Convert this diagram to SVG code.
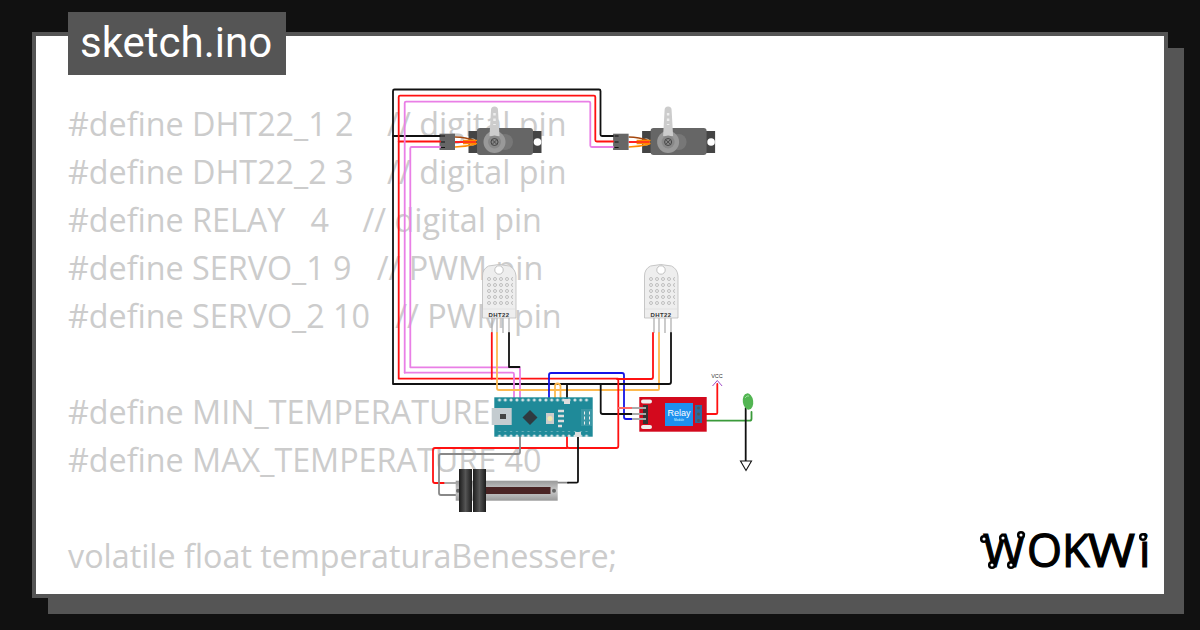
<svg xmlns="http://www.w3.org/2000/svg" width="1200" height="630" viewBox="0 0 1200 630">
<style>
.code{font-family:"Open Sans","Liberation Sans",sans-serif;font-size:32.3px;fill:#ccc;white-space:pre}
.w{fill:none;stroke-width:1.8;stroke-linejoin:round;stroke-linecap:round}
.k{stroke:#111}.r{stroke:#f11}.p{stroke:#e97fe6}.o{stroke:#fdb94f}.b{stroke:#1414e6}.g{stroke:#888}.gr{stroke:#3a9a3a}
.logo{font-family:"Open Sans","DejaVu Sans",sans-serif;font-size:45px;fill:#000;stroke:#000;stroke-width:1.2}
</style>
<defs>
<linearGradient id="handle" x1="0" x2="1" y1="0" y2="0"><stop offset="0" stop-color="#1c1c1c"/><stop offset=".5" stop-color="#555"/><stop offset="1" stop-color="#1c1c1c"/></linearGradient>
<linearGradient id="pot" x1="0" x2="0" y1="0" y2="1"><stop offset="0" stop-color="#999"/><stop offset=".5" stop-color="#ccc"/><stop offset="1" stop-color="#999"/></linearGradient>
<pattern id="pins" width="5.8" height="6" patternUnits="userSpaceOnUse" x="496.6" y="397"><circle cx="2.9" cy="3" r="1.5" fill="#d8e4e6"/></pattern>
<pattern id="vents" width="6" height="6" patternUnits="userSpaceOnUse"><circle cx="3" cy="3" r="1.5" fill="none" stroke="#aaa" stroke-width=".7"/></pattern>
<g id="servoShape">
<rect x="468.500" y="131" width="73" height="22" fill="#444"/>
<circle cx="472.500" cy="142" r="3.500" fill="#ddd"/>
<circle cx="537.500" cy="142" r="3.800" fill="#fff"/>
<rect x="477" y="128" width="56" height="27" rx="3" fill="#666"/>
<circle cx="505" cy="142" r="8" fill="#777"/>
<circle cx="494.500" cy="142" r="11" fill="#999"/>
<path d="M491 110a3.500 3.500 0 0 1 7 0l1.500 26h-10z" fill="#ccc"/>
<circle cx="494.500" cy="142" r="6.500" fill="#888"/>
<circle cx="494.500" cy="142" r="3.500" fill="none" stroke="#333" stroke-width=".8"/>
<path d="M492.500 140l4 4m0-4l-4 4" stroke="#333" stroke-width=".7"/>
<path d="M494.500 113v12" stroke="#eee" stroke-width="2.500" stroke-dasharray="2.500 3"/>
<path d="M455 137q10 0 21 4" fill="none" stroke="#a5470d" stroke-width="1.600"/>
<path d="M455 147q10 0 21-3" fill="none" stroke="#ff8c00" stroke-width="1.600"/>
<path d="M455 142h21" stroke="#f22" stroke-width="2"/>
<path d="M463 140.500h14M463 143.500h14" stroke="#f80" stroke-width="1.500"/>
<rect x="439.500" y="133.700" width="15.500" height="16.300" fill="#666"/>
<path d="M441 136h4M441 142h4M441 147.500h4" stroke="#111" stroke-width="1"/>
</g>
<g id="dhtShape">
<path d="M492 318v15M497 318v15M503 318v15M509 318v15" stroke="#aaa" stroke-width="1.200"/>
<path d="M482.500 318V276q0-7 6-10q10-3 21 0q6 3 6.500 10v42z" fill="#eee" stroke="#bbb" stroke-width=".8"/>
<circle cx="499" cy="270" r="4.200" fill="#fff" stroke="#aaa" stroke-width=".7"/>
<rect x="486" y="277" width="27" height="30" fill="url(#vents)"/>
<path d="M483 309h33" stroke="#ddd" stroke-width=".7"/>
<text x="499" y="316.500" text-anchor="middle" font-family="'Liberation Sans',sans-serif" font-size="6" font-weight="700" letter-spacing=".4" fill="#333">DHT22</text>
</g>
</defs>
<rect width="1200" height="630" fill="#111"/>
<rect x="48" y="48" width="1136" height="566" fill="#555"/>
<rect x="34" y="34" width="1132" height="562" fill="#fff" stroke="#555" stroke-width="4"/>
<rect x="68" y="12" width="218" height="63" fill="#555"/>
<text x="80" y="57" font-family="Roboto,'Liberation Sans',sans-serif" font-size="42" fill="#fff">sketch.ino</text>
<g id="code">
<text class="code" x="68" y="136">#define DHT22_1 2    // digital pin</text>
<text class="code" x="68" y="184">#define DHT22_2 3    // digital pin</text>
<text class="code" x="68" y="232">#define RELAY   4    // digital pin</text>
<text class="code" x="68" y="280">#define SERVO_1 9   // PWM pin</text>
<text class="code" x="68" y="328">#define SERVO_2 10   // PWM pin</text>
<text class="code" x="68" y="424">#define MIN_TEMPERATURE</text>
<text class="code" x="68" y="472">#define MAX_TEMPERATURE 40</text>
<text class="code" x="68" y="568">volatile float temperaturaBenessere;</text>
</g>
<g id="servo1"><use href="#servoShape"/></g>
<g id="servo2"><use href="#servoShape" x="173.600"/></g>
<g id="dht1"><use href="#dhtShape"/></g>
<g id="dht2"><use href="#dhtShape" x="162"/></g>
<g id="connectors">
<path class="w k" d="M440 136H393V384H600"/>
<path class="w k" d="M393 136V91q0-1.500 1.500-1.500H599q1.500 0 1.500 1.500V134.500q0 1.500 1.500 1.500H613"/>
<path class="w r" d="M440 141.500H398.700V378.700H618"/>
<path class="w r" d="M398.700 141.500V97q0-1.300 1.300-1.300H594q1.300 0 1.300 1.300V140q0 1.500 1.500 1.500H613"/>
<path class="w p" d="M440 147H411.500q-1.200 0-1.200 1.200V367.300H518.500q1.500 0 1.500 1.500V400"/>
<path class="w p" d="M404.700 372.700V103q0-1.300 1.300-1.300H589q1.300 0 1.300 1.300V145.500q0 1.500 1.500 1.500H613"/>
<path class="w p" d="M404.700 372.700H512.500q1.500 0 1.500 1.500V400"/>
<path class="w k" d="M509 333V367H519.500"/>
<path class="w r" d="M491.800 333V378.700"/>
<path class="w o" d="M497 333V388q0 2 2 2H658q1 0 1-1V333"/>
<path class="w o" d="M555 400V386q0-2.500 2.500-2.500t3 2.500V400"/>
<path class="w b" d="M549 400V375q0-2 2-2H622q2 0 2 2V417q0 2 2 2H640"/>
<path class="w k" d="M567 400V384M600.700 384V412q0 2 2 2H640"/>
<path class="w k" d="M600 384H669q2 0 2-2V333"/>
<path class="w r" d="M653 333V377q0 2-2 2H617q1.300 0 1.300 1.500V446q0 2-2 2H569q-2 0-2-2V433"/>
<path class="w" stroke="#f66" d="M618.300 408H640"/>
<path class="w r" d="M567 448H435q-2 0-2 2V481q0 2 2 2H445"/>
<path class="w" stroke="#aaa" d="M445 483H457"/>
<path class="w g" d="M520 436V452q0 2-2 2H441q-2 0-2 2V493q0 2 2 2H456"/>
<path class="w g" d="M557 482.700H568"/>
<path class="w k" d="M568 482.700H576.500q1.500 0 1.500-1.500V437"/>
<path class="w r" d="M698 414H716q1.300 0 1.300-1.300V384"/>
<path class="w gr" d="M698 420.700H749.500q2 0 2-2V412"/>
<path class="w k" d="M745.700 408V461"/>
</g>
<g id="arduino">
<rect x="494.300" y="397.300" width="98.400" height="39.400" fill="#1f8a99"/>
<rect x="496.600" y="397" width="92.800" height="6" fill="url(#pins)"/>
<rect x="496.600" y="431" width="92.800" height="6" fill="url(#pins)"/>
<rect x="491.700" y="408" width="20" height="17" fill="#c4ccd0"/>
<rect x="500" y="414" width="6" height="5" fill="#444"/>
<path d="M530 410l7.500 7.500-7.500 7.500-7.500-7.500z" fill="#2f3a40"/>
<rect x="546" y="413" width="8" height="11" fill="#ccc"/><circle cx="550" cy="418.500" r="2.500" fill="#efe8b0"/>
<path d="M558 411h6M558 416h6M558 421h6M558 426h4" stroke="#ddd" stroke-width="2.500"/>
<rect x="581" y="409" width="11" height="17" fill="#3a97a5"/>
<path d="M584 413h1M589 413h1M584 418h1M589 418h1M584 423h1M589 423h1" stroke="#eee" stroke-width="3"/>
<rect x="564" y="399" width="6" height="5" fill="#ddd"/><rect x="575" y="432" width="6" height="5" fill="#ddd"/>
</g>
<g id="pot">
<rect x="455.700" y="480.700" width="102" height="20" fill="url(#pot)"/>
<rect x="486" y="487" width="64.500" height="7" fill="#4a2323"/>
<circle cx="554" cy="490.700" r="2" fill="#666"/>
<circle cx="458" cy="490.700" r="2" fill="#666"/>
<rect x="459" y="469" width="13" height="43" fill="url(#handle)"/>
<rect x="473" y="469" width="13" height="43" fill="url(#handle)"/>
</g>
<g id="relay">
<rect x="639.300" y="397" width="67.400" height="34.700" fill="#d3091d"/>
<rect x="641" y="399.500" width="11" height="4" rx="2" fill="#eee"/><rect x="641" y="425" width="11" height="4" rx="2" fill="#eee"/>
<rect x="643" y="405" width="5" height="19" fill="#333"/>
<path d="M632 408h14M632 414h14M632 419h14" stroke="#aaa" stroke-width="1.800"/>
<rect x="665" y="403" width="28" height="23" fill="#1e90ee"/>
<text x="679" y="416" text-anchor="middle" font-family="'Liberation Sans',sans-serif" font-size="9" fill="#fff">Relay</text>
<text x="679" y="421" text-anchor="middle" font-family="'Liberation Sans',sans-serif" font-size="3" fill="#dff">Module</text>
<rect x="695" y="405" width="7" height="18" fill="#2d6aa0"/>
<circle cx="698.500" cy="408" r="1.500" fill="#555"/><circle cx="698.500" cy="414" r="1.500" fill="#555"/><circle cx="698.500" cy="420.500" r="1.500" fill="#555"/>
</g>
<g id="vcc">
<text x="717" y="378" text-anchor="middle" font-family="'Liberation Sans',sans-serif" font-size="5.500" fill="#333">VCC</text>
<path d="M712.500 386l4.800-5.500 4.800 5.500" fill="none" stroke="#a04cc8" stroke-width="1"/>
</g>
<g id="led">
<ellipse cx="748" cy="401.500" rx="5.200" ry="8.200" fill="#52b552" transform="rotate(-8 748 401.500)"/>
<path d="M745 398q2-3 4-2" fill="none" stroke="#9adf9a" stroke-width="1"/>
</g>
<g id="gnd"><path d="M740.500 461h11l-5.500 9.500z" fill="#fff" stroke="#111" stroke-width="1.100"/></g>
<g id="logo">
<text class="logo" y="567"><tspan x="983" textLength="42" lengthAdjust="spacingAndGlyphs">W</tspan><tspan x="1027">O</tspan><tspan x="1062">K</tspan></text>
<text class="logo" x="1088" y="567" textLength="47" lengthAdjust="spacingAndGlyphs">W</text>
<text class="logo" x="1139" y="567">i</text>
<g fill="#fff" stroke="#000" stroke-width="2.500"><circle cx="984" cy="539" r="2.800"/><circle cx="1003" cy="538" r="2.800"/><circle cx="1021" cy="535" r="2.800"/><circle cx="992" cy="565" r="2.800"/><circle cx="1011" cy="565" r="2.800"/><circle cx="1143" cy="537" r="2.800"/></g>
</g>
</svg>
